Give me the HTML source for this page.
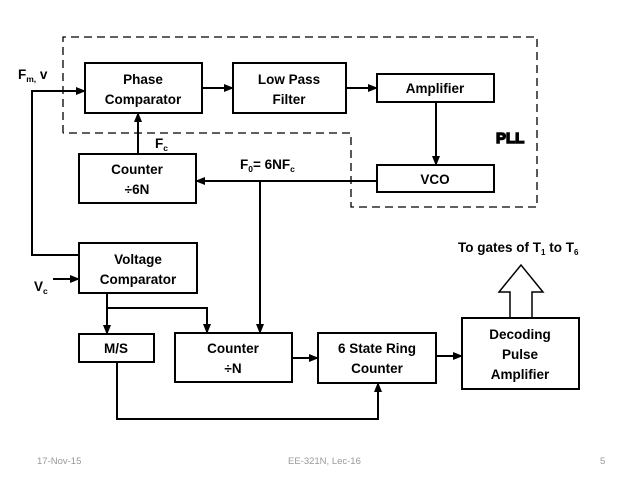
<!DOCTYPE html>
<html><head><meta charset="utf-8"><style>
body{margin:0;background:#fff}
svg text{font-family:"Liberation Sans",sans-serif;font-weight:bold;font-size:13.5px;fill:#000}
</style></head><body>
<svg width="638" height="479" viewBox="0 0 638 479" xmlns="http://www.w3.org/2000/svg">
<defs><marker id="a" markerWidth="10" markerHeight="10" refX="9" refY="5" orient="auto" markerUnits="userSpaceOnUse"><path d="M0,1 L10,5 L0,9 z" fill="#000"/></marker></defs>
<g fill="none" stroke="#000" stroke-width="2">
<path d="M63,133 V37 H537 V207 H351 V133 H63" stroke-width="1.3" stroke-dasharray="8,5"/>
<rect x="85" y="63" width="117" height="50"/>
<rect x="233" y="63" width="113" height="50"/>
<rect x="377" y="74" width="117" height="28"/>
<rect x="377" y="165" width="117" height="27"/>
<rect x="79" y="154" width="117" height="49"/>
<rect x="79" y="243" width="118" height="50"/>
<rect x="79" y="334" width="75" height="28"/>
<rect x="175" y="333" width="117" height="49"/>
<rect x="318" y="333" width="118" height="50"/>
<rect x="462" y="318" width="117" height="71"/>
<line x1="202" y1="88" x2="233" y2="88" marker-end="url(#a)"/>
<line x1="346" y1="88" x2="377" y2="88" marker-end="url(#a)"/>
<line x1="436" y1="102" x2="436" y2="165" marker-end="url(#a)"/>
<line x1="377" y1="181" x2="196" y2="181" marker-end="url(#a)"/>
<line x1="138" y1="154" x2="138" y2="113" marker-end="url(#a)"/>
<path d="M79,255 H32 V91 H85" marker-end="url(#a)"/>
<line x1="53" y1="279" x2="79" y2="279" marker-end="url(#a)"/>
<line x1="260" y1="181" x2="260" y2="333" marker-end="url(#a)"/>
<line x1="107" y1="293" x2="107" y2="334" marker-end="url(#a)"/>
<path d="M107,308 H207 V333" marker-end="url(#a)"/>
<line x1="292" y1="358" x2="318" y2="358" marker-end="url(#a)"/>
<line x1="436" y1="356" x2="462" y2="356" marker-end="url(#a)"/>
<path d="M117,362 V419 H378 V383" marker-end="url(#a)"/>
<path d="M510,318 V292 H499 L521,265 L543,292 H532 V318" stroke-width="1.5"/>
</g>
<g text-anchor="middle">
<text x="143" y="84">Phase</text><text x="143" y="104">Comparator</text>
<text x="289" y="84">Low Pass</text><text x="289" y="104">Filter</text>
<text x="435" y="93">Amplifier</text>
<text x="435" y="184">VCO</text>
<text x="137" y="174">Counter</text><text x="137" y="194">÷6N</text>
<text x="138" y="264">Voltage</text><text x="138" y="284">Comparator</text>
<text x="116" y="353">M/S</text>
<text x="233" y="353">Counter</text><text x="233" y="373">÷N</text>
<text x="377" y="353">6 State Ring</text><text x="377" y="373">Counter</text>
<text x="520" y="339">Decoding</text><text x="520" y="359">Pulse</text><text x="520" y="379">Amplifier</text>
</g>
<text x="18" y="79">F<tspan font-size="8.5" dy="3">m,</tspan><tspan dy="-3"> v</tspan></text>
<text x="155" y="148">F<tspan font-size="8.5" dy="3">c</tspan></text>
<text x="240" y="169">F<tspan font-size="8.5" dy="3">0</tspan><tspan dy="-3">= 6NF</tspan><tspan font-size="8.5" dy="3">c</tspan></text>
<text x="34" y="291">V<tspan font-size="8.5" dy="3">c</tspan></text>
<text x="458" y="252" font-size="12.5">To gates of T<tspan font-size="8" dy="3">1</tspan><tspan dy="-3"> to T</tspan><tspan font-size="8" dy="3">6</tspan></text>
<text x="496" y="143" style="font-weight:900;font-size:15px;stroke:#000;stroke-width:1.4">PLL</text>
<text x="37" y="464" style="font-weight:normal;fill:#999;font-size:9.5px">17-Nov-15</text>
<text x="288" y="464" style="font-weight:normal;fill:#999;font-size:9.5px">EE-321N, Lec-16</text>
<text x="600" y="464" style="font-weight:normal;fill:#999;font-size:9.5px">5</text>
</svg>
</body></html>
